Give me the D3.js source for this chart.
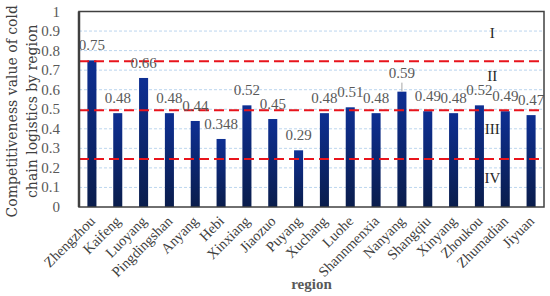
<!DOCTYPE html>
<html>
<head>
<meta charset="utf-8">
<script src="https://cdn.jsdelivr.net/npm/d3@7"></script>
<style>
  body { margin: 0; background: #fff; }
  text { font-family: "Liberation Serif", "DejaVu Serif", serif; }
  .wide { font-family: "DejaVu Serif", serif; }
</style>
</head>
<body>
<svg id="chart" width="550" height="296"></svg>
<script>
const regions = ['Zhengzhou','Kaifeng','Luoyang','Pingdingshan','Anyang','Hebi','Xinxiang','Jiaozuo','Puyang',
    'Xuchang','Luohe','Shannmenxia','Nanyang','Shangqiu','Xinyang','Zhoukou','Zhumadian','Jiyuan'];
const values = [0.75,0.48,0.66,0.48,0.44,0.348,0.52,0.45,0.29,0.48,0.51,0.48,0.59,0.49,0.48,0.52,0.49,0.47];
const valueLabels = ['0.75','0.48','0.66','0.48','0.44','0.348','0.52','0.45','0.29','0.48','0.51','0.48','0.59','0.49','0.48','0.52','0.49','0.47'];
const yTicks = [0,0.1,0.2,0.3,0.4,0.5,0.6,0.7,0.8,0.9,1];
const thresholds = [0.745,0.495,0.246];
const grades = [{name:'I',v:0.89},{name:'II',v:0.67},{name:'III',v:0.4},{name:'IV',v:0.15}];

const margin = {top: 11.5, right: 6, bottom: 89, left: 79};
const width = 550, height = 296;
const svg = d3.select('#chart');
const g = svg.append('g').attr('transform', `translate(${margin.left},${margin.top})`);
const w = width - margin.left - margin.right, h = height - margin.top - margin.bottom;

const x = d3.scaleBand().domain(regions).range([0, w]).paddingInner(0.65).paddingOuter(0.325);
const y = d3.scaleLinear().domain([0, 1]).range([h, 0]);

const defs = svg.append('defs');
const grad = defs.append('linearGradient').attr('id','barGrad').attr('x1',0).attr('y1',0).attr('x2',0).attr('y2',1);
grad.append('stop').attr('offset','0%').attr('stop-color','#0e2f93');
grad.append('stop').attr('offset','100%').attr('stop-color','#0a1d4c');

// gridlines
g.append('g').selectAll('line').data(yTicks.filter(d => d > 0 && d < 1)).join('line')
    .attr('x1', 0).attr('x2', w)
    .attr('y1', d => y(d)).attr('y2', d => y(d))
    .attr('stroke', '#bcd6ee').attr('stroke-width', 1).attr('stroke-dasharray', '3,2');

// bars
g.append('g').selectAll('rect').data(regions).join('rect')
    .attr('x', d => x(d))
    .attr('width', x.bandwidth())
    .attr('y', (d, i) => y(values[i]))
    .attr('height', (d, i) => h - y(values[i]))
    .attr('fill', 'url(#barGrad)');

// threshold lines
g.append('g').selectAll('line').data(thresholds).join('line')
    .attr('x1', 0).attr('x2', w)
    .attr('y1', d => y(d)).attr('y2', d => y(d))
    .attr('stroke', '#e8141c').attr('stroke-width', 2).attr('stroke-dasharray', '10,5');

// value labels
const lab = g.append('g').attr('font-size', 15).attr('fill', '#595959').attr('text-anchor', 'middle');
regions.forEach((r, i) => {
    const cx = x(r) + x.bandwidth() / 2;
    let ly = y(values[i]) - 10;
    if (r === 'Nanyang') {
        ly = y(values[i]) - 14;
        lab.append('line').attr('x1', cx).attr('x2', cx)
            .attr('y1', y(values[i])).attr('y2', y(values[i]) - 9)
            .attr('stroke', '#a6a6a6');
    }
    lab.append('text').attr('x', cx).attr('y', ly).text(valueLabels[i]);
});

// grade labels, in the gap between Zhoukou and Zhumadian
const gx = (x('Zhoukou') + x.bandwidth() + x('Zhumadian')) / 2;
g.append('g').selectAll('text').data(grades).join('text')
    .attr('x', gx)
    .attr('y', d => y(d.v) + 5)
    .attr('text-anchor', 'middle')
    .attr('font-size', 15).attr('fill', '#262626')
    .text(d => d.name);

// frame
g.append('rect').attr('x', 0).attr('y', 0).attr('width', w).attr('height', h)
    .attr('fill', 'none').attr('stroke', '#404040').attr('stroke-width', 1.5);
g.append('line').attr('x1', 0).attr('x2', 0).attr('y1', 0).attr('y2', h)
    .attr('stroke', '#404040').attr('stroke-width', 2.5);

// y tick labels
g.append('g').selectAll('text').data(yTicks).join('text')
    .attr('x', -19).attr('y', d => y(d) + 5)
    .attr('text-anchor', 'end').attr('font-size', 15).attr('fill', '#595959')
    .text(d => d === 0 || d === 1 ? d : d.toFixed(1));

// x tick labels
g.append('g').selectAll('text').data(regions).join('text')
    .attr('transform', d => `translate(${x(d) + x.bandwidth() / 2 + 4},${h + 15}) rotate(-45)`)
    .attr('text-anchor', 'end').attr('font-size', 14.5).attr('fill', '#404040')
    .text(d => d);

// axis titles
svg.append('text').attr('x', margin.left + w / 2).attr('y', 289)
    .attr('text-anchor', 'middle').attr('font-size', 15).attr('font-weight', 'bold').attr('fill', '#595959')
    .text('region');
const yt = svg.append('text').attr('class', 'wide')
    .attr('transform', `translate(0,${margin.top + h / 2 + 2}) rotate(-90)`)
    .attr('text-anchor', 'middle').attr('font-size', 14).attr('fill', '#404040');
yt.append('tspan').attr('x', 0).attr('y', 17).text('Competitiveness value of cold');
yt.append('tspan').attr('x', 0).attr('y', 37).text('chain logistics by region');
</script>
</body>
</html>
